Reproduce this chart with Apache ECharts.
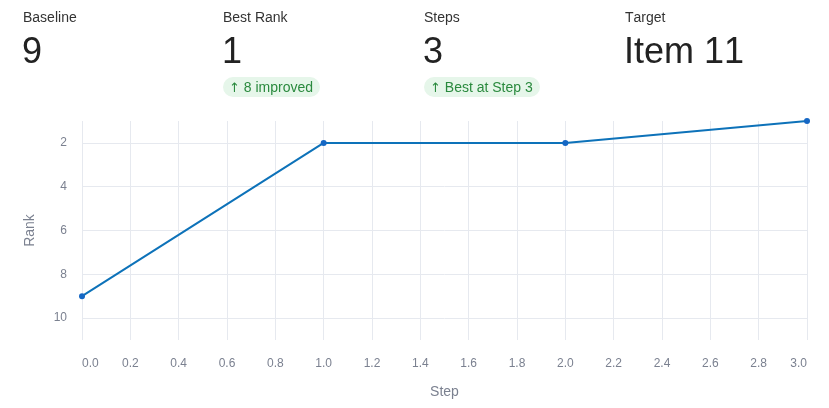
<!DOCTYPE html>
<html>
<head>
<meta charset="utf-8">
<script src="https://cdn.jsdelivr.net/npm/echarts@6/dist/echarts.min.js"></script>
<style>
  html, body { margin: 0; padding: 0; background: #fff; }
  body { width: 829px; height: 408px; position: relative; overflow: hidden; font-family: "Liberation Sans", Arial, sans-serif; font-kerning: none; }
  #chart { position: absolute; left: 0; top: 0; width: 829px; height: 408px; }
  .kpi { position: absolute; top: 0; }
  .kpi .lbl { position: absolute; top: 9px; left: 0; font-size: 14px; line-height: 16px; color: #333; white-space: nowrap; }
  .kpi .val { position: absolute; top: 30px; left: -1px; font-size: 36px; line-height: 42px; color: #222; white-space: nowrap; font-kerning: none; }
  .kpi .pill { position: absolute; top: 77px; left: 0; height: 20px; line-height: 20px; font-size: 14px; padding: 0 7px 0 6px; border-radius: 10px; background: #e6f6ea; color: #2a8a3e; white-space: nowrap; }
  .kpi .pill .arr { font-family: "DejaVu Sans", sans-serif; font-size: 13px; }
</style>
</head>
<body>
<div id="chart"></div>
<div id="kpis"></div>
<script>
// ---- data ----
const steps = [0, 1, 2, 3];
const ranks = [9, 2, 2, 1];
const rankTicks = [2, 4, 6, 8, 10];
const kpiLabels = ["Baseline", "Best Rank", "Steps", "Target"];
const kpiValues = ["9", "1", "3", "Item 11"];
const kpiBadges = ["", "8 improved", "Best at Step 3", ""];

// ---- KPI header ----
const kpiLeft = [23, 223, 424, 625];
const wrap = document.getElementById('kpis');
kpiLabels.forEach((l, i) => {
  const d = document.createElement('div');
  d.className = 'kpi';
  d.style.left = kpiLeft[i] + 'px';
  let h = '<div class="lbl">' + l + '</div><div class="val">' + kpiValues[i] + '</div>';
  if (kpiBadges[i]) h += '<div class="pill"><span class="arr">\u2191</span> ' + kpiBadges[i] + '</div>';
  d.innerHTML = h;
  wrap.appendChild(d);
});

// ---- chart ----
const chart = echarts.init(document.getElementById('chart'), null, { renderer: 'canvas' });
const axisTextColor = '#7b8190';
const gridColor = '#e6e9ef';
chart.setOption({
  animation: false,
  textStyle: { fontFamily: '"Liberation Sans", Arial, sans-serif' },
  grid: { left: 82, right: 22, top: 121, bottom: 68, containLabel: false },
  xAxis: {
    type: 'value', min: 0, max: 3, interval: 0.2,
    name: 'Step', nameLocation: 'middle', nameGap: 45,
    nameTextStyle: { color: axisTextColor, fontSize: 14 },
    axisLine: { show: false },
    axisTick: { show: false },
    axisLabel: { color: axisTextColor, fontSize: 12, margin: 18,
      alignMinLabel: 'left', alignMaxLabel: 'right',
      formatter: v => Number(v).toFixed(1) },
    splitLine: { show: true, lineStyle: { color: gridColor, width: 1 } }
  },
  yAxis: {
    type: 'value', min: 1, max: 11, inverse: true,
    name: 'Rank', nameLocation: 'middle', nameGap: 45,
    nameTextStyle: { color: axisTextColor, fontSize: 14 },
    axisLine: { show: false },
    axisTick: { show: false, customValues: rankTicks },
    axisLabel: { color: axisTextColor, fontSize: 12, margin: 15, customValues: rankTicks },
    splitLine: { show: true, lineStyle: { color: gridColor, width: 1 } }
  },
  series: [{
    type: 'line',
    data: steps.map((s, i) => [s, ranks[i]]),
    symbol: 'circle', symbolSize: 6,
    lineStyle: { color: '#0d72b9', width: 2 },
    itemStyle: { color: '#1567c4' }
  }]
});
</script>
</body>
</html>
